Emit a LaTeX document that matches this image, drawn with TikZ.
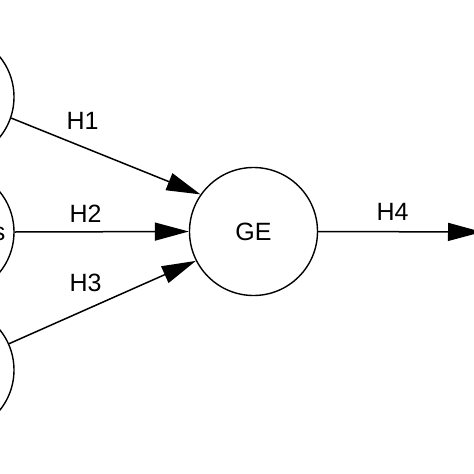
\documentclass[tikz,border=0pt]{standalone}
\usepackage{fontspec}
\setmainfont{Liberation Sans}
\usetikzlibrary{arrows.meta}
\begin{document}
\begin{tikzpicture}[x=1pt,y=-1pt,
  construct/.style={draw, circle, minimum size=128pt, inner sep=0pt, line width=1.4pt},
  path/.style={line width=1.5pt, -{Triangle[length=34pt,width=18pt]}},
  hyp/.style={inner sep=0pt, font=\fontsize{25}{29}\selectfont}]
\useasboundingbox (0,0) rectangle (474,474);
\node[construct] (a) at (-50,97) {};
\node[construct] (b) at (-50,232) {};
\node[construct] (c) at (-50,370) {};
\node[construct, font=\fontsize{25}{29}\selectfont] (ge) at (253.5,231.5) {GE};
\node[hyp, anchor=base east] (bs) at (5.5,240) {s};
\coordinate (out) at (482,232);
\draw[path] (a.-19.3) -- (ge.145.7);
\draw[path] (b.east) -- (ge.west);
\draw[path] (c.24.2) -- (ge.207.5);
\draw[path] (ge.east) -- (out);
\node[hyp] (h1) at (82.5,120.5) {H1};
\node[hyp] (h2) at (85.5,214) {H2};
\node[hyp] (h3) at (85.5,282.5) {H3};
\node[hyp] (h4) at (392.5,211.5) {H4};
\end{tikzpicture}
\end{document}
